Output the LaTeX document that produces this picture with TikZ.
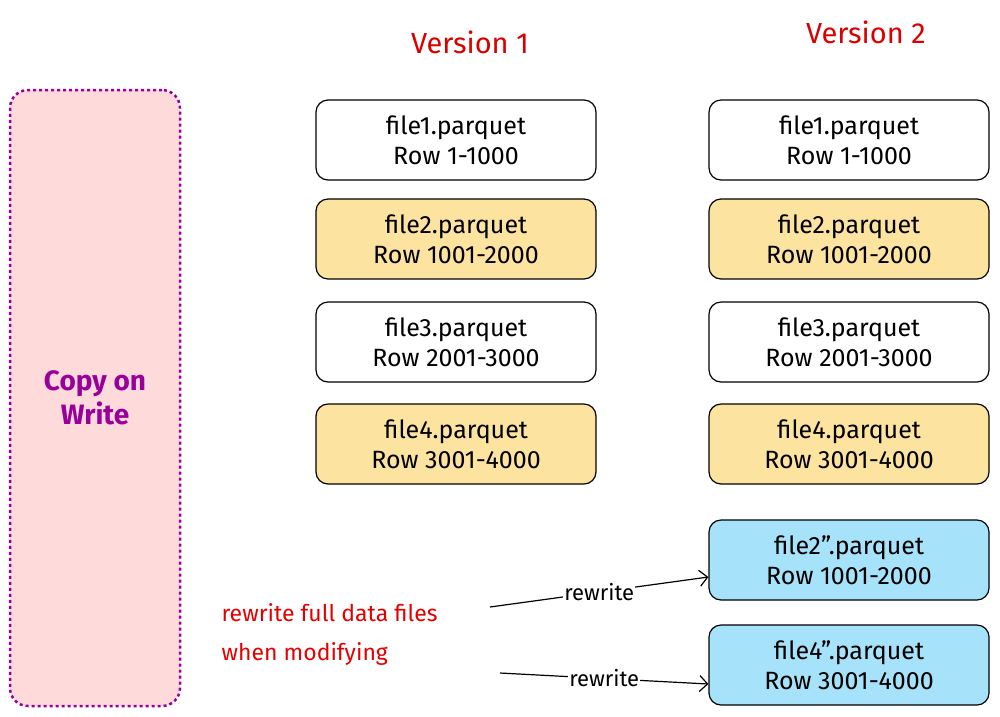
\documentclass[tikz,border=0pt]{standalone}
\usetikzlibrary{arrows.meta}
\usepackage{fontspec}
\setmainfont{Fira Sans}
\begin{document}
\begin{tikzpicture}[x=1pt,y=-1pt,
 fbox/.style={draw=black,line width=1.2pt,rounded corners=12pt,minimum width=280pt,minimum height=80pt,align=center,font=\fontsize{25}{30}\selectfont,inner sep=0pt},
 wbox/.style={fbox,fill=white},
 ybox/.style={fbox,fill=yellow!45!orange!35},
 bbox/.style={fbox,fill=cyan!35},
 lbl/.style={fill=white,inner sep=1pt,font=\fontsize{22}{26}\selectfont},
 arr/.style={-{Straight Barb[length=8pt]},line width=1.2pt}]
\useasboundingbox (0,0) rectangle (1000,716);
\node[draw=violet!80!magenta,dashed,line width=2.5pt,rounded corners=18pt,fill=pink!85!red!40,minimum width=170pt,minimum height=616pt] (cow) at (95,398) {};
\node[font=\bfseries\fontsize{28}{34}\selectfont,text=violet!80!magenta,align=center] (cowt) at (95,398) {Copy on\\Write};
\node[text=red!85!black,font=\fontsize{29}{34}\selectfont] (v1) at (470,42) {Version 1};
\node[text=red!85!black,font=\fontsize{29}{34}\selectfont] (v2) at (866,32) {Version 2};
\node[wbox] (a1) at (456,140) {file1.parquet\\Row 1-1000};
\node[ybox] (a2) at (456,239) {file2.parquet\\Row 1001-2000};
\node[wbox] (a3) at (456,342) {file3.parquet\\Row 2001-3000};
\node[ybox] (a4) at (456,444) {file4.parquet\\Row 3001-4000};
\node[wbox] (b1) at (849,140) {file1.parquet\\Row 1-1000};
\node[ybox] (b2) at (849,239) {file2.parquet\\Row 1001-2000};
\node[wbox] (b3) at (849,342) {file3.parquet\\Row 2001-3000};
\node[ybox] (b4) at (849,444) {file4.parquet\\Row 3001-4000};
\node[bbox] (b5) at (849,560) {file2".parquet\\Row 1001-2000};
\node[bbox] (b6) at (849,665) {file4".parquet\\Row 3001-4000};
\node[text=red!90!black,font=\fontsize{23}{39}\selectfont,align=left,anchor=north west] (note) at (218,600) {rewrite full data files\\when modifying};
\coordinate (s1) at (490,607);
\coordinate (s2) at (500,673);
\draw[arr] (s1) -- node[lbl]{rewrite} (b5.west|-0,577);
\draw[arr] (s2) -- node[lbl]{rewrite} (b6.west|-0,684);
\end{tikzpicture}
\end{document}
